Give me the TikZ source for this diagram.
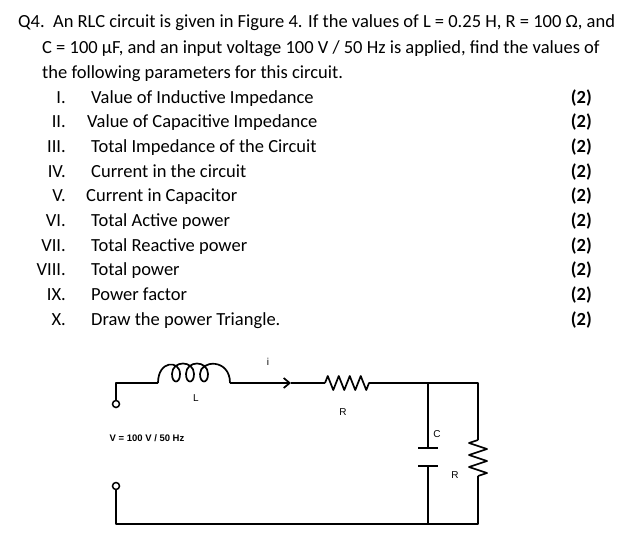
\documentclass[tikz,border=0pt]{standalone}
\usepackage{fontspec}
\setmainfont{Carlito}
\newfontfamily\arialf{Liberation Sans}
\usetikzlibrary{decorations.pathmorphing,arrows.meta}
\begin{document}
\begin{tikzpicture}[x=1pt,y=-1pt,
  qtext/.style={anchor=base west,inner sep=0pt,font=\fontsize{18.5}{20}\selectfont},
  numr/.style={anchor=base east,inner sep=0pt,font=\fontsize{18.5}{20}\selectfont},
  mark2/.style={anchor=base east,inner sep=0pt,font=\fontsize{18.5}{20}\selectfont\bfseries},
  wire/.style={line width=1.7pt,line join=round},
  clab/.style={inner sep=0pt,font=\arialf\fontsize{10}{12}\selectfont},
  term/.style={circle,draw,line width=1.5pt,fill=white,minimum size=7pt,inner sep=0pt}]
\useasboundingbox (0,0) rectangle (637,536);
\node[qtext] (l1) at (18,27) {Q4.\ \ An RLC circuit is given in Figure 4. If the values of L = 0.25 H, R = 100 Ω, and};
\node[qtext] (l2) at (42,53) {C = 100 µF, and an input voltage 100 V / 50 Hz is applied, find the values of};
\node[qtext] (l3) at (42,78) {the following parameters for this circuit.};
\foreach \n/\t/\x [count=\k from 0] in {I./Value of Inductive Impedance/91,II./Value of Capacitive Impedance/87,III./Total Impedance of the Circuit/91,IV./Current in the circuit/91,V./Current in Capacitor/86,VI./Total Active power/91,VII./Total Reactive power/91,VIII./Total power/91,IX./Power factor/91,X./Draw the power Triangle./91}{
  \node[numr] (n\k) at (66,103+24.7*\k) {\n};
  \node[qtext] (t\k) at (\x,103+24.7*\k) {\t};
  \node[mark2] (m\k) at (592,103+24.7*\k) {(2)};
}
% circuit
\coordinate (tt) at (116,404);
\coordinate (tl) at (116,383);
\coordinate (ls) at (158,383);
\coordinate (le) at (230,383);
\coordinate (ar) at (291,383);
\coordinate (rs) at (325,383);
\coordinate (re) at (370,383);
\coordinate (j) at (428,383);
\coordinate (rr) at (478,383);
\coordinate (bj) at (428,524);
\coordinate (br) at (478,524);
\coordinate (bl) at (116,524);
\coordinate (bt) at (116,486);
\draw[wire] (tt) -- (tl) -- (ls);
\draw[wire] (ls) .. controls (158,360) and (180,360) .. (180,374)
  .. controls (180,384) and (172,384) .. (172,374)
  .. controls (172,360) and (194,360) .. (194,374)
  .. controls (194,384) and (186,384) .. (186,374)
  .. controls (186,360) and (208,360) .. (208,374)
  .. controls (208,384) and (200,384) .. (200,374)
  .. controls (200,360) and (230,358) .. (le);
\draw[wire,-{Straight Barb[length=6pt,width=10pt]}] (le) -- (ar);
\draw[wire] (ar) -- (rs);
\draw[wire,decorate,decoration={zigzag,segment length=11,amplitude=7}] (rs) -- (re);
\draw[wire] (re) -- (j) -- (rr) -- (478,440);
\draw[wire,decorate,decoration={zigzag,segment length=12,amplitude=9,mirror}] (478,440) -- (478,476);
\draw[wire] (478,476) -- (br) -- (bl) -- (bt);
\draw[wire] (j) -- (428,448);
\draw[wire] (418,448) -- (438,448);
\draw[wire] (418,466) -- (438,466);
\draw[wire] (428,466) -- (bj);
\node[term] (T1) at (tt) {};
\node[term] (T2) at (bt) {};
\node[clab] (iL) at (268,362) {i};
\node[clab] (LL) at (196,398) {L};
\node[clab] (R1) at (343,412) {R};
\node[clab] (CL) at (437,434) {C};
\node[clab] (R2) at (455,475) {R};
\node[clab,font=\arialf\bfseries\fontsize{9.5}{11}\selectfont] (VV) at (147,438) {V = 100 V / 50 Hz};
\end{tikzpicture}
\end{document}
